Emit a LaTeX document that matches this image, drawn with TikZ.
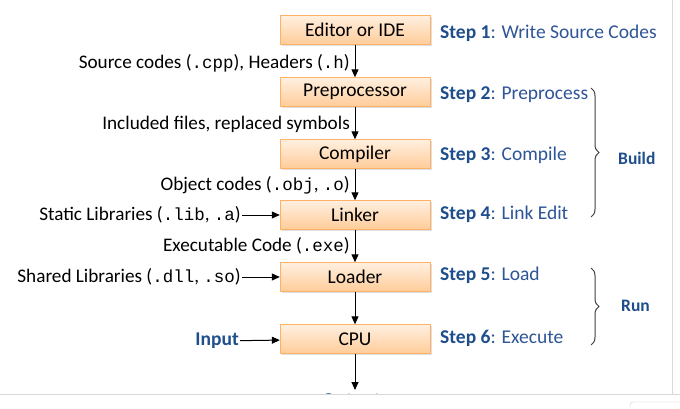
\documentclass[tikz,border=0pt]{standalone}
\usepackage{fontspec}
\setmainfont{Carlito}
\newfontfamily\monof{Liberation Mono}
\usetikzlibrary{decorations.pathreplacing,shadows,arrows.meta}
\definecolor{stepblue}{HTML}{1F4E8C}
\definecolor{txtblue}{HTML}{2E5597}
\tikzset{
  x=1pt,y=-1pt,
  box/.style={draw=orange!60!white,top color=orange!12,bottom color=orange!40,minimum width=150pt,minimum height=29pt,font=\fontsize{19.5}{20}\selectfont,drop shadow={opacity=0.25,shadow xshift=1.5pt,shadow yshift=-1.5pt}},
  lab/.style={font=\fontsize{19.2}{20}\selectfont,anchor=east,inner sep=1pt},
  stp/.style={font=\fontsize{19.5}{20}\selectfont,anchor=west,text=txtblue,inner sep=0pt},
  arr/.style={-{Triangle[length=8pt,width=7pt]},line width=1pt},
  brc/.style={decorate,decoration={brace,amplitude=8pt},draw=black!75,line width=1pt},
}
\newcommand{\mono}[1]{{\monof\fontsize{17.5}{18}\selectfont #1}}
\begin{document}
\begin{tikzpicture}
\useasboundingbox (0,0) rectangle (680,409);
\fill[white] (0,0) rectangle (680,409);
\node[box] (ed) at (355,30) {Editor or IDE};
\node[box] (pp) at (355,92) {Preprocessor};
\node[box] (cc) at (355,154) {Compiler};
\node[box] (ln) at (355,215) {Linker};
\node[box] (ld) at (355,277) {Loader};
\node[box] (cpu) at (355,339) {CPU};
\node[stp] (out) at (322,402) {\textcolor{stepblue}{\textbf{Output}}};
\draw[arr] (ed) -- (pp);
\draw[arr] (pp) -- (cc);
\draw[arr] (cc) -- (ln);
\draw[arr] (ln) -- (ld);
\draw[arr] (ld) -- (cpu);
\coordinate (cb) at (355,390);
\draw[arr] (cpu) -- (cb);
\node[lab] (l1) at (351,63) {Source codes (\mono{.cpp}), Headers (\mono{.h})};
\node[lab] (l2) at (351,124) {Included files, replaced symbols};
\node[lab] (l3) at (351,185) {Object codes (\mono{.obj}, \mono{.o})};
\node[lab] (l4) at (351,246) {Executable Code (\mono{.exe})};
\node[lab] (s1) at (242,215) {Static Libraries (\mono{.lib}, \mono{.a})};
\node[lab] (s2) at (242,277) {Shared Libraries (\mono{.dll}, \mono{.so})};
\node[lab,text=stepblue,font=\fontsize{19.5}{20}\selectfont\bfseries] (in) at (240,341) {Input};
\draw[arr] (s1) -- (ln);
\draw[arr] (s2) -- (ld);
\draw[arr] (in) -- (cpu);
\node[stp] (t1) at (440,33) {\textbf{\textcolor{stepblue}{Step 1}}: Write Source Codes};
\node[stp] (t2) at (440,95) {\textbf{\textcolor{stepblue}{Step 2}}: Preprocess};
\node[stp] (t3) at (440,155) {\textbf{\textcolor{stepblue}{Step 3}}: Compile};
\node[stp] (t4) at (440,214) {\textbf{\textcolor{stepblue}{Step 4}}: Link Edit};
\node[stp] (t5) at (440,275) {\textbf{\textcolor{stepblue}{Step 5}}: Load};
\node[stp] (t6) at (440,338) {\textbf{\textcolor{stepblue}{Step 6}}: Execute};
\coordinate (b1) at (591,88);
\coordinate (b2) at (591,217);
\draw[brc] (b1) -- (b2);
\node[stp,text=stepblue,font=\fontsize{17.5}{20}\selectfont\bfseries] (build) at (618,158) {Build};
\coordinate (r1) at (591,268);
\coordinate (r2) at (591,345);
\draw[brc] (r1) -- (r2);
\node[stp,text=stepblue,font=\fontsize{17.5}{20}\selectfont\bfseries] (run) at (621,306) {Run};
\fill[white] (0,394) rectangle (680,409);
\draw[black!15,line width=1pt] (0,394) -- (680,394);
\draw[black!15] (672,0) -- (672,394);
\draw[black!20,rounded corners=3pt,fill=white] (630,402) rectangle (690,415);
\end{tikzpicture}
\end{document}
